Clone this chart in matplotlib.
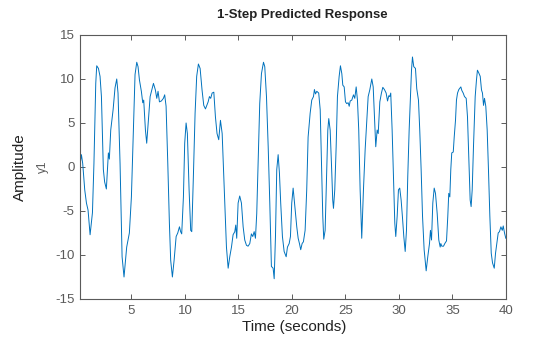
import matplotlib.pyplot as plt
import numpy as np

plt.rcParams['font.family'] = ['Liberation Sans', 'DejaVu Sans']
plt.rcParams['axes.unicode_minus'] = False

# values
time = [0.2, 0.33, 0.45, 0.64, 0.8, 0.95, 1.14, 1.36, 1.5, 1.67, 1.76, 1.92, 2.07, 2.2,
        2.38, 2.5, 2.66, 2.85, 2.94, 3.07, 3.29, 3.47, 3.63, 3.75, 3.94, 4.13, 4.31, 4.56,
        4.81, 5.0, 5.19, 5.34, 5.5, 5.62, 5.75, 5.93, 6.06, 6.15, 6.31, 6.43, 6.59, 6.75,
        7.06, 7.24, 7.37, 7.49, 7.62, 7.8, 7.99, 8.11, 8.24, 8.4, 8.55, 8.67, 8.83, 8.99,
        9.18, 9.33, 9.49, 9.6, 9.7, 9.86, 9.98, 10.11, 10.23, 10.39, 10.54, 10.64, 10.79,
        10.95, 11.1, 11.26, 11.42, 11.6, 11.76, 11.92, 12.04, 12.17, 12.29, 12.41, 12.54,
        12.7, 12.85, 13.0, 13.16, 13.32, 13.48, 13.72, 13.88, 14.04, 14.19, 14.35, 14.5,
        14.66, 14.75, 14.84, 14.97, 15.12, 15.28, 15.44, 15.59, 15.75, 15.9, 16.06, 16.21,
        16.34, 16.47, 16.59, 16.71, 16.84, 16.99, 17.15, 17.34, 17.46, 17.62, 17.78, 17.93,
        18.08, 18.24, 18.34, 18.46, 18.58, 18.71, 18.83, 18.95, 19.11, 19.27, 19.46, 19.58,
        19.74, 19.86, 19.98, 20.11, 20.3, 20.45, 20.58, 20.7, 20.82, 20.95, 21.07, 21.23,
        21.38, 21.51, 21.7, 21.85, 22.01, 22.1, 22.2, 22.32, 22.5, 22.64, 22.76, 22.88,
        22.97, 23.1, 23.22, 23.35, 23.44, 23.57, 23.69, 23.81, 23.88, 24.0, 24.13, 24.25,
        24.41, 24.53, 24.66, 24.75, 24.88, 25.0, 25.12, 25.25, 25.35, 25.44, 25.59, 25.75,
        25.87, 26.0, 26.12, 26.24, 26.37, 26.52, 26.68, 26.84, 27.12, 27.27, 27.46, 27.59,
        27.71, 27.83, 27.96, 28.06, 28.21, 28.36, 28.49, 28.64, 28.8, 28.93, 29.05, 29.14,
        29.23, 29.36, 29.49, 29.61, 29.7, 29.83, 29.95, 30.07, 30.2, 30.33, 30.45, 30.58,
        30.7, 30.82, 30.95, 31.07, 31.17, 31.26, 31.38, 31.54, 31.66, 31.82, 31.94, 32.07,
        32.2, 32.35, 32.54, 32.69, 32.85, 32.94, 33.04, 33.16, 33.29, 33.41, 33.57, 33.72,
        33.85, 33.91, 34.0, 34.16, 34.28, 34.44, 34.56, 34.65, 34.75, 34.84, 34.93, 35.07,
        35.16, 35.28, 35.37, 35.47, 35.59, 35.78, 35.87, 36.0, 36.12, 36.28, 36.4, 36.52,
        36.65, 36.74, 36.84, 36.96, 37.12, 37.24, 37.33, 37.45, 37.59, 37.71, 37.8, 37.9,
        37.99, 38.11, 38.24, 38.36, 38.49, 38.62, 38.74, 38.9, 39.02, 39.14, 39.27, 39.39,
        39.52, 39.65, 39.74, 39.86, 39.98]
y1 = [0.23, 1.4, 0.4, -2.6, -4.1, -4.9, -7.7, -5.2, 0.4, 9.5, 11.5, 11.2, 10.3, 8.0,
      -0.3, -1.7, -2.5, 1.6, 0.9, 4.2, 6.5, 9.0, 10.0, 8.4, 0.4, -10.2, -12.5, -9.1,
      -7.5, -3.4, 4.2, 10.5, 11.9, 11.4, 9.9, 8.6, 7.3, 7.6, 4.2, 2.7, 5.3, 8.0,
      9.5, 8.75, 7.8, 8.6, 7.4, 7.5, 7.8, 8.2, 6.9, 0.4, -6.4, -10.6, -12.5, -10.6,
      -7.9, -7.5, -6.8, -7.35, -7.6, -3.4, 2.7, 5.0, 3.8, -2.6, -7.2, -7.35, -1.1,
      6.1, 10.3, 11.7, 11.2, 8.75, 7.0, 6.6, 7.0, 7.4, 8.0, 7.8, 8.4,
      8.5, 5.7, 3.8, 3.1, 5.3, 3.8, -4.1, -9.1, -11.5, -10.2, -9.1, -7.7,
      -7.35, -6.6, -8.1, -4.1, -3.3, -4.1, -6.8, -8.3, -8.9, -9.0, -8.7, -7.6,
      -7.9, -7.35, -8.1, -5.3, 0.4, 7.2, 10.6, 11.9, 11.4, 8.0, 2.3, -4.1,
      -11.3, -11.5, -12.7, -7.9, -0.3, 1.4, -0.7, -4.1, -7.9, -9.6, -10.2, -9.1,
      -8.7, -7.9, -4.1, -2.4, -4.9, -6.8, -8.1, -8.7, -9.4, -8.7, -8.5, -7.2,
      -2.6, 3.4, 6.1, 7.6, 8.0, 8.8, 8.3, 8.6, 8.4, 6.5, 0.4, -5.6,
      -8.2, -7.2, -1.5, 4.2, 5.5, 4.2, 0.4, -3.75, -4.7, -2.6, 2.3, 8.0,
      10.3, 11.5, 10.6, 9.3, 9.1, 7.4, 7.2, 7.3, 6.9, 7.5, 7.6, 8.2,
      7.8, 9.1, 7.6, 4.2, -2.6, -8.1, -2.6, 2.0, 8.0, 8.75, 10.0, 9.1,
      5.7, 2.3, 4.2, 3.8, 7.4, 8.4, 9.05, 8.8, 8.4, 7.5, 8.1, 8.0,
      8.4, 4.2, -1.5, -6.4, -7.9, -5.6, -2.6, -2.4, -3.75, -5.8, -7.9, -9.6,
      -7.2, -1.1, 4.2, 8.0, 11.0, 12.5, 11.4, 11.2, 8.9, 7.6, 4.2, -0.3,
      -5.6, -9.4, -11.8, -10.2, -8.7, -7.2, -8.3, -4.1, -2.4, -3.0, -5.3, -8.3,
      -9.1, -8.7, -9.0, -9.0, -8.7, -8.4, -5.6, -3.0, -3.4, -0.3, 1.6, 1.7,
      3.4, 5.3, 7.6, 8.4, 8.8, 9.1, 8.7, 8.4, 8.0, 7.8, 5.7, 1.2,
      -3.75, -4.5, -2.6, 2.3, 8.0, 9.9, 11.0, 10.7, 10.3, 8.75, 8.4, 7.0,
      7.8, 6.9, 4.2, -0.3, -5.6, -9.8, -10.9, -11.5, -9.8, -8.7, -7.5, -7.35,
      -6.8, -7.2, -6.7, -7.5, -8.1]

xticks = [5, 10, 15, 20, 25, 30, 35, 40]
yticks = [-15, -10, -5, 0, 5, 10, 15]

axis_col = '#5a5a5a'

fig = plt.figure(figsize=(5.6, 3.37), dpi=100)
ax = fig.add_axes([0.1429, 0.1128, 0.7607, 0.7834])
ax.plot(time, y1, color='#0072BD', linewidth=0.7)

ax.set_xlim(time[0], 40)
ax.set_ylim(-15, 15)
ax.set_xticks(xticks)
ax.set_yticks(yticks)
ax.tick_params(direction='in', length=3.5, width=0.7, colors=axis_col,
               labelsize=9.5, top=True, right=True, pad=4)
for s in ax.spines.values():
    s.set_color(axis_col)
    s.set_linewidth(0.8)

fig.text(302 / 560, 1 - 15 / 337, '1-Step Predicted Response', ha='center', va='center',
         fontsize=9.5, fontweight='bold', color='#222222')
fig.text(294 / 560, 1 - 327 / 337, 'Time (seconds)', ha='center', va='center',
         fontsize=11, color='#222222')
fig.text(20 / 560, 1 - 167 / 337, 'Amplitude', ha='center', va='center',
         rotation=90, fontsize=11, color='#222222')
fig.text(43 / 560, 1 - 167 / 337, 'y1', ha='center', va='center',
         rotation=90, fontsize=8.5, color=axis_col)

fig.savefig('out.png', dpi=100)
